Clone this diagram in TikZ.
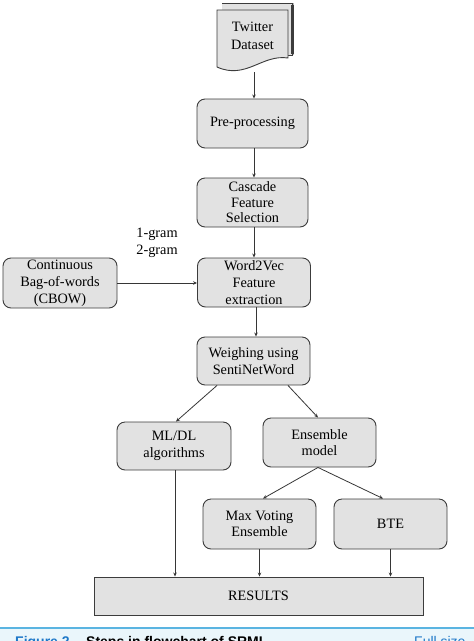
\documentclass[tikz,border=0pt]{standalone}
\usepackage{fontspec}
\setmainfont{Liberation Serif}
\newfontfamily\capfont{Liberation Sans}
\usetikzlibrary{arrows.meta}
\definecolor{boxfill}{RGB}{226,226,226}
\definecolor{boxdraw}{RGB}{60,60,60}
\definecolor{capblue}{RGB}{90,180,225}
\definecolor{capbg}{RGB}{234,246,251}
\definecolor{linkblue}{RGB}{30,120,200}
\tikzset{
  flowbox/.style={draw=boxdraw, fill=boxfill, line width=0.9pt, rounded corners=8pt,
    align=center, inner sep=0pt, font=\fontsize{14.3}{16.5}\selectfont},
  flowarrow/.style={draw=boxdraw!90!black, line width=0.8pt, -{Stealth[length=4pt,width=3.5pt]}},
  lbl/.style={align=center, font=\fontsize{14.3}{17}\selectfont, inner sep=0pt}
}
\begin{document}
\begin{tikzpicture}[x=1pt,y=-1pt]
\useasboundingbox (0,0) rectangle (474,641);
\clip (0,0) rectangle (474,641);
% document shape
\fill[boxfill!80!black] (222,3) rectangle (294,55);
\draw[boxdraw, line width=0.9pt, fill=boxfill] (222,3) -- (292,3) -- (292,55) -- (222,55);
\draw[boxdraw, line width=2.5pt] (292.5,5) -- (292.5,54);
\draw[boxdraw, line width=0.9pt, fill=boxfill] (217,10) -- (288,10) -- (288,58)
  .. controls (262,54) and (246,80) .. (217,67) -- cycle;
\node[lbl, font=\fontsize{14.3}{18}\selectfont] (doc) at (252.5,36) {Twitter\\Dataset};
\coordinate (docb) at (254,72);

\node[flowbox, minimum width=111pt, minimum height=49pt] (pre) at (252.5,123.5) {Pre-processing};
\node[flowbox, minimum width=111pt, minimum height=49pt, font=\fontsize{14.3}{15.5}\selectfont] (cfs) at (252.5,202.5) {Cascade\\Feature\\Selection};
\node[flowbox, minimum width=113pt, minimum height=49pt, font=\fontsize{14.3}{17}\selectfont] (w2v) at (254,282.5) {Word2Vec\\Feature\\extraction};
\node[flowbox, minimum width=114pt, minimum height=50pt, font=\fontsize{14.3}{17}\selectfont] (cbow) at (60,283) {Continuous\\Bag-of-words\\(CBOW)};
\node[lbl] (gram) at (157,243) {1-gram\\2-gram};
\node[flowbox, minimum width=113pt, minimum height=48pt, font=\fontsize{14.3}{17}\selectfont] (weigh) at (253.5,361) {Weighing using\\SentiNetWord};
\node[flowbox, minimum width=114pt, minimum height=48pt] (ml) at (174,446) {ML/DL\\algorithms};
\node[flowbox, minimum width=113pt, minimum height=49pt] (ens) at (319.5,442.5) {Ensemble\\model};
\node[flowbox, minimum width=113pt, minimum height=50pt] (mv) at (259.5,524) {Max Voting\\Ensemble};
\node[flowbox, minimum width=113pt, minimum height=50pt] (bte) at (390.5,524) {BTE};
\node[flowbox, rounded corners=0pt, minimum width=329pt, minimum height=38pt] (res) at (258.5,596) {RESULTS};

\draw[flowarrow] (docb) -- (docb |- pre.north);
\draw[flowarrow] ([xshift=1.5pt]pre.south) -- ([xshift=1.5pt]cfs.north);
\draw[flowarrow] ([xshift=1.5pt]cfs.south) -- ([xshift=0pt]w2v.north);
\draw[flowarrow] (cbow.east) -- (w2v.west |- cbow.east);
\draw[flowarrow] ([xshift=2pt]w2v.south) -- ([xshift=2.5pt]weigh.north);
\draw[flowarrow] ([xshift=-36.5pt]weigh.south) -- ([xshift=2pt]ml.north);
\draw[flowarrow] ([xshift=34.5pt]weigh.south) -- ([xshift=-1.5pt]ens.north);
\draw[flowarrow] ([xshift=-1.5pt]ens.south) -- ([xshift=3.5pt]mv.north);
\draw[flowarrow] ([xshift=-1.5pt]ens.south) -- ([xshift=-7.5pt]bte.north);
\draw[flowarrow] ([xshift=1pt]ml.south) -- ([xshift=1pt]ml.south |- res.north);
\draw[flowarrow] (mv.south) -- (mv.south |- res.north);
\draw[flowarrow] (bte.south) -- (bte.south |- res.north);

% caption strip (cut off)
\fill[capbg] (0,628) rectangle (474,641);
\draw[capblue, line width=1.5pt] (0,628) -- (474,628);
\node[anchor=base west, inner sep=0pt, font=\capfont\bfseries\fontsize{14}{16}\selectfont, text=linkblue] (fig) at (15,646) {Figure 2};
\node[anchor=base west, inner sep=0pt, font=\capfont\bfseries\fontsize{14}{16}\selectfont] (cap) at (86,646) {Steps in flowchart of SRMI.};
\node[anchor=base west, inner sep=0pt, font=\capfont\fontsize{14}{16}\selectfont, text=linkblue] (full) at (414,646) {Full size};
\end{tikzpicture}
\end{document}
